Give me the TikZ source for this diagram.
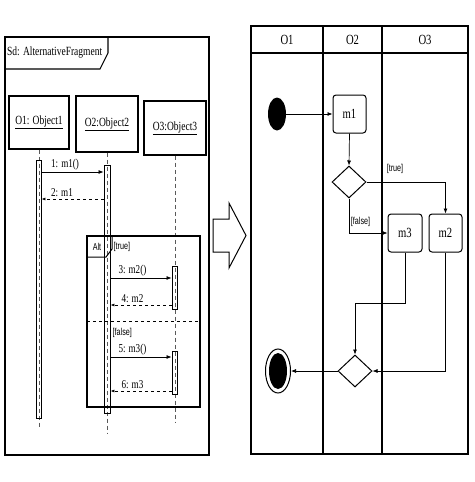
\documentclass[tikz,border=0pt]{standalone}
\usepackage{fontspec}
\setmainfont{Liberation Serif}[FakeStretch=0.76]
\newfontfamily\lsans{Liberation Sans}[FakeStretch=0.72]
\usetikzlibrary{arrows.meta,shapes.geometric,calc}
\begin{document}
\begin{tikzpicture}[x=1pt,y=-1pt,
  frame/.style={draw, line width=1.1pt},
  objbox/.style={draw, line width=1.1pt, inner sep=0pt, font=\fontsize{12.5}{14}\selectfont},
  life/.style={draw, gray!70!black, dash pattern=on 4pt off 3pt, line width=0.6pt},
  act/.style={draw, line width=0.9pt, inner sep=0pt, minimum width=5pt},
  msg/.style={draw, line width=0.7pt, -{Latex[length=5pt,width=4pt]}},
  ret/.style={draw, line width=0.7pt, dashed, -{Latex[length=4pt,width=3pt]}},
  mlab/.style={font=\fontsize{12}{13}\selectfont, inner sep=1.5pt},
  guard/.style={font=\lsans\fontsize{10}{11}\selectfont, inner sep=1pt},
  action/.style={draw, line width=1pt, rounded corners=3pt, inner sep=0pt, font=\fontsize{14}{16}\selectfont},
  choice/.style={diamond, draw, line width=1pt, inner sep=0pt},
  flow/.style={draw, line width=0.7pt, -{Latex[length=5pt,width=4pt]}},
  lane/.style={font=\fontsize{14}{16}\selectfont}
]
\useasboundingbox (0,0) rectangle (474,482);

% ---------- sequence diagram ----------
\draw[frame] (5,37) rectangle (209,455);
\draw[frame] (5,69) -- (100,69) -- (108,53) -- (108,37);
\node[anchor=west, inner sep=0pt, font=\fontsize{12.5}{14}\selectfont] (sdlab) at (7,53) {Sd: AlternativeFragment};

\node[objbox, minimum width=60pt, minimum height=53pt] (o1) at (39,122.5) {\underline{O1: Object1}};
\node[objbox, minimum width=62pt, minimum height=56pt] (o2) at (107,124) {\underline{O2:Object2}};
\node[objbox, minimum width=62pt, minimum height=54pt] (o3) at (175,128) {\underline{O3:Object3}};

\coordinate (e1) at (39,428);
\coordinate (e2) at (107,433);
\coordinate (e3) at (175,423);
\draw[life] (o1.south) -- (e1);
\draw[life] (o2.south) -- (e2);
\draw[life] (o3.south) -- (e3);

\node[act, minimum width=5pt, minimum height=258pt] (a1) at (38.5,289) {};
\node[act, minimum width=6pt, minimum height=248pt] (a2) at (107,289) {};
\node[act, minimum height=43pt] (a3) at (174.5,287.5) {};
\node[act, minimum height=43pt] (a4) at (174.5,372.5) {};

\draw[msg] (a1.east |- 0,172) -- node[mlab, pos=0.38, above] {1: m1()} (a2.west |- 0,172);
\draw[ret] (a2.west |- 0,199) -- node[mlab, pos=0.67, above] {2: m1} (a1.east |- 0,199);

% alt fragment
\draw[frame] (87,236) rectangle (200,407);
\draw[line width=1pt] (87,257) -- (106,257) -- (112,249) -- (112,236);
\node[guard] (alt) at (97,247) {Alt};
\node[guard, anchor=west] (gtrue) at (112.5,247) {[true]};
\draw[line width=0.8pt, dashed] (87,321) -- (200,321);
\node[guard, anchor=west] (gfalse) at (111.5,333) {[false]};

\draw[msg] (a2.east |- 0,278) -- node[mlab, pos=0.36, above] {3: m2()} (a3.west |- 0,278);
\draw[ret] (a3.west |- 0,305) -- node[mlab, pos=0.64, above] {4: m2} (a2.east |- 0,305);
\draw[msg] (a2.east |- 0,357) -- node[mlab, pos=0.36, above] {5: m3()} (a4.west |- 0,357);
\draw[ret] (a4.west |- 0,391) -- node[mlab, pos=0.64, above] {6: m3} (a2.east |- 0,391);

% ---------- transformation arrow ----------
\draw[line width=1pt] (213,219) -- (229,219) -- (229,203) -- (246,235.5) -- (229,268) -- (229,252) -- (213,252) -- cycle;

% ---------- activity diagram ----------
\draw[frame] (251,26) rectangle (468,454);
\draw[frame] (251,53) -- (468,53);
\draw[frame] (323,26) -- (323,454);
\draw[frame] (382,26) -- (382,454);
\node[lane] (h1) at (287,40) {O1};
\node[lane] (h2) at (352.5,40) {O2};
\node[lane] (h3) at (425,40) {O3};

\node[ellipse, fill=black, inner sep=0pt, minimum width=18pt, minimum height=33pt] (init) at (277,114) {};
\node[action, minimum width=33pt, minimum height=38pt] (m1) at (349.5,114) {m1};
\node[choice, minimum width=34pt, minimum height=32pt] (dec) at (349,182) {};
\node[action, minimum width=34pt, minimum height=38pt] (m3) at (405,233) {m3};
\node[action, minimum width=33pt, minimum height=38pt] (m2) at (445.5,233) {m2};
\node[choice, minimum width=34pt, minimum height=32pt] (merge) at (355,371) {};
\node[ellipse, draw, line width=1pt, inner sep=0pt, minimum width=25pt, minimum height=44pt] (final) at (278,371) {};
\node[ellipse, fill=black, inner sep=0pt, minimum width=18pt, minimum height=36pt] (finalin) at (278,371) {};

\draw[flow] (init.east) -- (m1.west);
\draw[flow] (m1.south) -- (dec.north);
\draw[flow] (dec.east) -- (m2.north |- dec.east) -- (m2.north);
\node[guard] (ltrue) at (395,169) {[true]};
\draw[flow] (dec.south) -- (dec.south |- m3.west) -- (m3.west);
\node[guard] (lfalse) at (360.5,222) {[false]};
\coordinate (k1) at (406,303);
\draw[flow] (m3.south) -- (m3.south |- k1) -- (merge.north |- k1) -- (merge.north);
\draw[flow] (m2.south) -- (m2.south |- merge.east) -- (merge.east);
\draw[flow] (merge.west) -- (final.east);
\end{tikzpicture}
\end{document}
